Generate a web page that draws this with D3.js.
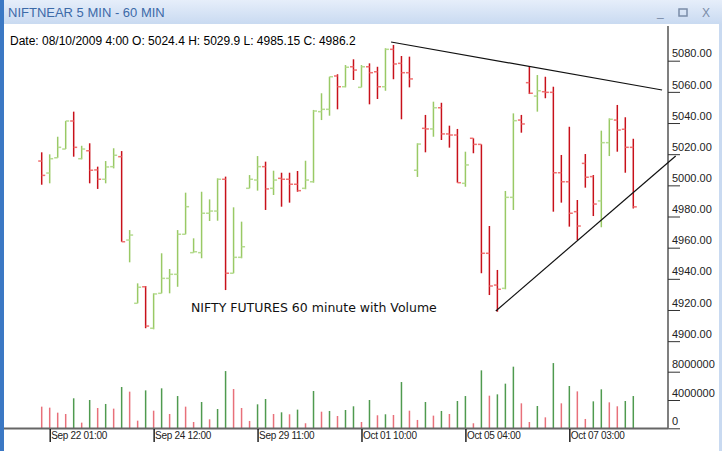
<!DOCTYPE html>
<html><head><meta charset="utf-8">
<script src="https://cdn.jsdelivr.net/npm/d3@7"></script>
<style>body{margin:0;background:#fff}svg{display:block}</style>
</head><body>
<svg id="c" width="722" height="451"></svg>
<script>
const opens=[5015.6,5007.9,5017.7,5023.3,5041.3,5017.1,5022.2,5009.9,5003.9,5012.0,5018.4,4964.9,4924.3,4934.9,4908.3,4930.7,4940.3,4942.9,4968.6,4956.8,4956.8,4982.1,4983.5,5003.9,4943.6,4953.8,4998.1,5003.4,5012.0,4998.1,5004.5,5003.9,5000.7,4998.1,5002.3,5047.3,5048.8,5070.2,5063.3,5076.1,5062.9,5076.1,5072.9,5063.3,5087.3,5078.3,5072.3,5009.7,5036.6,5036.2,5049.8,5033.0,5032.3,5001.3,5030.2,5026.3,4956.4,4936.0,4933.9,4992.3,5041.9,5065.9,5057.3,5060.1,5059.7,5008.1,5002.3,4983.1,5014.1,5005.6,4990.0,5027.4,5041.9,5036.0,5024.4];
const highs=[5021.2,5019.9,5031.2,5041.3,5047.3,5025.4,5027.0,5012.0,5015.6,5023.8,5022.0,4971.3,4937.1,4935.4,4930.7,4956.4,4946.3,4971.3,4995.3,4966.0,4995.9,4991.0,5004.5,5005.6,4985.9,4976.7,5006.6,5018.8,5015.2,5009.4,5008.1,5008.1,5009.2,5015.8,5048.4,5059.1,5069.7,5071.3,5077.2,5080.9,5077.2,5078.3,5076.1,5088.0,5090.1,5083.0,5082.6,5027.0,5045.2,5053.7,5053.0,5038.3,5036.2,5021.6,5030.2,5026.3,4973.9,4945.7,4996.4,5046.2,5045.2,5076.6,5070.8,5069.7,5063.3,5019.5,5037.6,4990.6,5020.1,5006.6,5035.1,5043.0,5051.6,5043.7,5029.9];
const lows=[5000.4,5001.3,5017.7,5023.3,5018.4,5016.7,5001.3,4997.7,5001.3,5010.9,4963.8,4950.6,4924.3,4908.3,4907.6,4930.7,4930.7,4934.9,4968.6,4956.8,4953.2,4977.1,4977.3,4932.8,4943.6,4953.2,4998.1,4996.6,4984.2,4993.8,4986.3,4988.9,4995.9,4997.5,5001.7,5041.9,5044.7,5048.8,5062.9,5067.6,5062.9,5052.0,5055.4,5060.7,5068.1,5042.4,5062.9,5005.4,5021.2,5031.2,5029.1,5024.2,5001.7,4999.1,5020.6,4943.6,4929.6,4918.9,4933.3,4984.2,5033.8,5058.6,5047.3,5055.9,4983.1,4988.9,4973.5,4964.9,4998.5,4980.3,4973.1,5018.8,5021.6,5008.1,4985.15];
const closes=[5006.4,5017.1,5024.4,5041.3,5024.4,5023.3,5009.7,5003.9,5011.8,5019.3,4963.8,4968.1,4934.6,4909.7,4930.3,4940.3,4942.9,4968.6,4986.3,4957.4,4982.1,4983.5,5003.9,4943.6,4953.8,4960.6,5003.9,5012.0,4997.7,5003.4,5003.9,5000.7,4996.6,5003.4,5047.7,5048.8,5069.7,5063.3,5075.8,5074.0,5076.1,5072.3,5063.3,5087.3,5077.9,5072.3,5068.3,5026.5,5036.2,5049.8,5033.0,5032.3,5001.7,5013.1,5026.3,4956.4,4935.4,4933.3,4992.3,5041.5,5039.4,5059.1,5060.7,5059.7,5008.1,5002.3,4982.1,4973.9,5005.2,4988.0,5027.4,5042.4,5035.5,5024.4,4986.2];
const volumes=[3.06,2.92,2.21,2.02,4.24,0.8,4.0,2.87,3.44,2.78,5.84,5.18,1.08,5.36,2.49,5.65,2.02,4.56,3.06,0.89,3.72,1.27,2.73,8.09,5.55,2.87,1.04,3.39,4.14,2.02,2.26,1.98,2.64,0.71,5.27,2.35,2.45,1.74,2.59,3.11,0.89,4.0,1.84,1.98,1.88,6.54,2.49,1.18,3.72,1.79,2.45,2.02,3.86,4.56,0.71,8.19,4.61,4.8,6.31,8.71,3.53,0.89,3.15,1.55,9.22,3.53,5.98,5.22,1.32,3.81,5.51,3.67,3.11,3.86,4.56].map(v=>v*1e6);
const volDir="rrrrg"+"rgrgr"+"grrgr"+"grgrr"+"grggr"+"rrggr"+"grgrg"+"rgrgg"+"rgrgr"+"grrgr"+"grggr"+"grggg"+"rrgrg"+"rgrrg"+"grrgg";
const xLabels=["Sep 22 01:00","Sep 24 12:00","Sep 29 11:00","Oct 01 10:00","Oct 05 04:00","Oct 07 03:00"];
const xLabelIdx=[1,14,27,40,53,66];
const priceTicks=[4900,4920,4940,4960,4980,5000,5020,5040,5060,5080];
const volTicks=[0,4000000,8000000];
const trendUpper=[[43.7,5092],[77.6,5061.2]];
const trendLower=[[56.8,4919.4],[79.3,5018.8]];

const svg=d3.select("#c");
const F="Arial, 'Liberation Sans', sans-serif";
const defs=svg.append("defs");
const g1=defs.append("linearGradient").attr("id","tb").attr("x1",0).attr("y1",0).attr("x2",0).attr("y2",1);
g1.append("stop").attr("offset",0).attr("stop-color","#e6eefa");
g1.append("stop").attr("offset",1).attr("stop-color","#c9daf1");
svg.append("rect").attr("width",722).attr("height",451).attr("fill","#fff");
svg.append("rect").attr("width",722).attr("height",24).attr("fill","url(#tb)");
svg.append("rect").attr("x",0).attr("y",0).attr("width",4).attr("height",451).attr("fill","#3b78c4");
svg.append("rect").attr("x",719).attr("y",24).attr("width",3).attr("height",427).attr("fill","#c9daf1");
svg.append("text").attr("x",8).attr("y",17).attr("font-family",F).attr("font-size",13).attr("fill","#3d6aa8").text("NIFTNEAR 5 MIN - 60 MIN");
svg.append("text").attr("x",657).attr("y",16).attr("font-family",F).attr("font-size",12).attr("fill","#7a8ca8").text("_");
svg.append("rect").attr("x",679).attr("y",9).attr("width",8).attr("height",7).attr("fill","none").attr("stroke","#7a8ca8").attr("stroke-width",1.5);
svg.append("text").attr("x",702).attr("y",17).attr("font-family",F).attr("font-size",12).attr("fill","#7a8ca8").text("X");

const x=d3.scaleLinear().domain([0,74]).range([41.7,633.3]);
const y=d3.scaleLinear().domain([4900,5080]).range([60.7+180/0.6418,60.7]);
const yv=d3.scaleLinear().domain([0,8e6]).range([428.3,371.7]);
const axX=668;

svg.append("line").attr("x1",axX).attr("x2",axX).attr("y1",26).attr("y2",428).attr("stroke","#555").attr("stroke-width",1.5);
const pa=svg.append("g").attr("transform",`translate(${axX},0)`).call(d3.axisRight(y).tickValues(priceTicks).tickSize(12).tickFormat(d3.format(".2f")));
pa.select(".domain").remove();
pa.selectAll("line").attr("stroke","#333");
pa.selectAll("text").attr("x",4).attr("dy","-0.35em").attr("font-family",F).attr("font-size",11).attr("fill","#222");
const va=svg.append("g").attr("transform",`translate(${axX},0)`).call(d3.axisRight(yv).tickValues(volTicks).tickSize(12).tickFormat(d3.format("d")));
va.select(".domain").remove();
va.selectAll("line").attr("stroke","#333");
va.selectAll("text").attr("x",4).attr("dy","-0.35em").attr("font-family",F).attr("font-size",11).attr("fill","#222");

svg.append("g").selectAll("line").data(volumes).join("line")
 .attr("x1",(d,i)=>x(i)).attr("x2",(d,i)=>x(i)).attr("y1",yv(0)).attr("y2",d=>yv(d))
 .attr("stroke",(d,i)=>volDir[i]==="g"?"#4f9a4f":"#e8707a").attr("stroke-width",1.5);

svg.append("line").attr("x1",4).attr("x2",axX).attr("y1",428.5).attr("y2",428.5).attr("stroke","#666").attr("stroke-width",2);
const xa=svg.append("g").attr("transform","translate(0,429)").call(d3.axisBottom(x).tickValues(xLabelIdx).tickSize(13).tickFormat((d,i)=>xLabels[i]));
xa.select(".domain").remove();
xa.selectAll("line").attr("stroke","#000").attr("stroke-width",1.3);
xa.selectAll("text").attr("text-anchor","start").attr("x",1).attr("y",3).attr("font-family",F).attr("font-size",10).attr("fill","#222").attr("letter-spacing","-0.3");

const bars=svg.append("g");
opens.forEach((o,i)=>{
  const up=closes[i]>=o;
  const cl=up?"#99c965":"#c8101a", ct=up?"#b6dc90":"#f07070";
  const cx=x(i);
  bars.append("line").attr("x1",cx).attr("x2",cx).attr("y1",y(highs[i])).attr("y2",y(lows[i])).attr("stroke",cl).attr("stroke-width",1.5);
  bars.append("line").attr("x1",cx-3.5).attr("x2",cx).attr("y1",y(o)).attr("y2",y(o)).attr("stroke",ct).attr("stroke-width",1.5);
  bars.append("line").attr("x1",cx).attr("x2",cx+3.5).attr("y1",y(closes[i])).attr("y2",y(closes[i])).attr("stroke",ct).attr("stroke-width",1.5);
});

[trendUpper,trendLower].forEach(t=>{
  svg.append("line").attr("x1",x(t[0][0])).attr("y1",y(t[0][1])).attr("x2",x(t[1][0])).attr("y2",y(t[1][1])).attr("stroke","#111").attr("stroke-width",1.2);
});

svg.append("text").attr("x",10).attr("y",45).attr("font-family",F).attr("font-size",12).attr("fill","#000")
 .text(`Date: 08/10/2009 4:00 O: ${opens[74]} H: ${highs[74]} L: ${lows[74]} C: ${closes[74]}`);
svg.append("text").attr("x",191).attr("y",312).attr("font-family","Verdana, 'DejaVu Sans', sans-serif").attr("font-size",12.5).attr("fill","#111").text("NIFTY FUTURES 60 minute with Volume");
</script>
</body></html>
